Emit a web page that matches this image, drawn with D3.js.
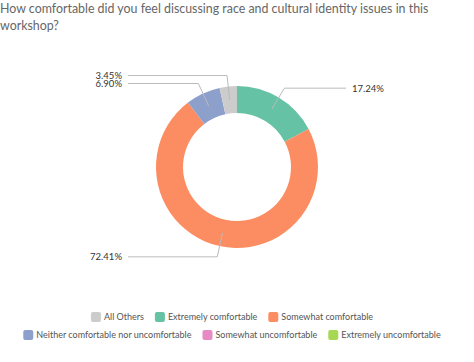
<!DOCTYPE html>
<html>
<head>
<meta charset="utf-8">
<script src="https://cdn.jsdelivr.net/npm/d3@7"></script>
<style>
  body { margin: 0; background: #fff; }
  svg text { font-family: Lato, "Liberation Sans", sans-serif; }
</style>
</head>
<body>
<div id="chart"></div>
<script>
// data
const titleLines = [
    "How comfortable did you feel discussing race and cultural identity issues in this",
    "workshop?"
];
const categories = [
    "Extremely comfortable",
    "Somewhat comfortable",
    "Neither comfortable nor uncomfortable",
    "Somewhat uncomfortable",
    "Extremely uncomfortable",
    "All Others"
];
const values = [17.24, 72.41, 6.90, 0, 0, 3.45];
const legendRows = [
    ["All Others", "Extremely comfortable", "Somewhat comfortable"],
    ["Neither comfortable nor uncomfortable", "Somewhat uncomfortable", "Extremely uncomfortable"]
];
const colors = ["#66c2a5", "#fc8d62", "#8da0cb", "#e78ac3", "#a6d854", "#cccccc"];

const width = 474, height = 362;
const cx = 237, cy = 167;
const outerR = 81, innerR = 54, elbowR = 92, labelOffset = 109;

const svg = d3.select('#chart')
    .append('svg')
    .attr('width', width)
    .attr('height', height);

// title
svg.append('g')
    .selectAll('text')
    .data(titleLines)
    .join('text')
    .attr('x', 0)
    .attr('y', (d, i) => 13 + i * 17)
    .attr('font-size', 12.4)
    .attr('fill', '#666')
    .text(d => d);

const color = d3.scaleOrdinal()
    .domain(categories)
    .range(colors);

const data = categories.map((c, i) => ({ name: c, value: values[i] }));

const pie = d3.pie()
    .sort(null)
    .value(d => d.value);

const arc = d3.arc()
    .innerRadius(innerR)
    .outerRadius(outerR);

const midArc = d3.arc()
    .innerRadius((innerR + outerR) / 2)
    .outerRadius((innerR + outerR) / 2);

const elbowArc = d3.arc()
    .innerRadius(elbowR)
    .outerRadius(elbowR);

const arcs = pie(data).filter(d => d.value > 0);

const group = svg.append('g')
    .attr('transform', `translate(${cx},${cy})`);

group.selectAll('path.slice')
    .data(arcs)
    .join('path')
    .attr('class', 'slice')
    .attr('d', arc)
    .attr('fill', d => color(d.data.name));

// label leader lines
const side = d => ((d.startAngle + d.endAngle) / 2 < Math.PI ? 1 : -1);

group.selectAll('polyline')
    .data(arcs)
    .join('polyline')
    .attr('fill', 'none')
    .attr('stroke', '#bbb')
    .attr('stroke-width', 1)
    .attr('points', d => {
        const a = midArc.centroid(d);
        const b = elbowArc.centroid(d);
        return [a, b, [side(d) * labelOffset, b[1]]].map(p => p.join(',')).join(' ');
    });

group.selectAll('text.pct')
    .data(arcs)
    .join('text')
    .attr('class', 'pct')
    .attr('x', d => side(d) * (labelOffset + 6))
    .attr('y', d => elbowArc.centroid(d)[1])
    .attr('dy', '0.35em')
    .attr('text-anchor', d => side(d) > 0 ? 'start' : 'end')
    .attr('font-size', 9.5)
    .attr('fill', '#333')
    .text(d => d.value.toFixed(2) + '%');

// legend
const legend = svg.append('g');
legendRows.forEach((row, r) => {
    const rowG = legend.append('g');
    let x = 0;
    row.forEach(name => {
        const item = rowG.append('g').attr('transform', `translate(${x},0)`);
        item.append('rect')
            .attr('x', 0)
            .attr('y', -5)
            .attr('width', 10)
            .attr('height', 10)
            .attr('rx', 2)
            .attr('fill', color(name));
        const t = item.append('text')
            .attr('x', 13)
            .attr('dy', '0.35em')
            .attr('font-size', 9)
            .attr('fill', '#555')
            .text(name);
        x += 13 + t.node().getComputedTextLength() + 11;
    });
    const rowWidth = x - 11;
    rowG.attr('transform', `translate(${232 - rowWidth / 2},${317 + r * 18})`);
});
</script>
</body>
</html>
